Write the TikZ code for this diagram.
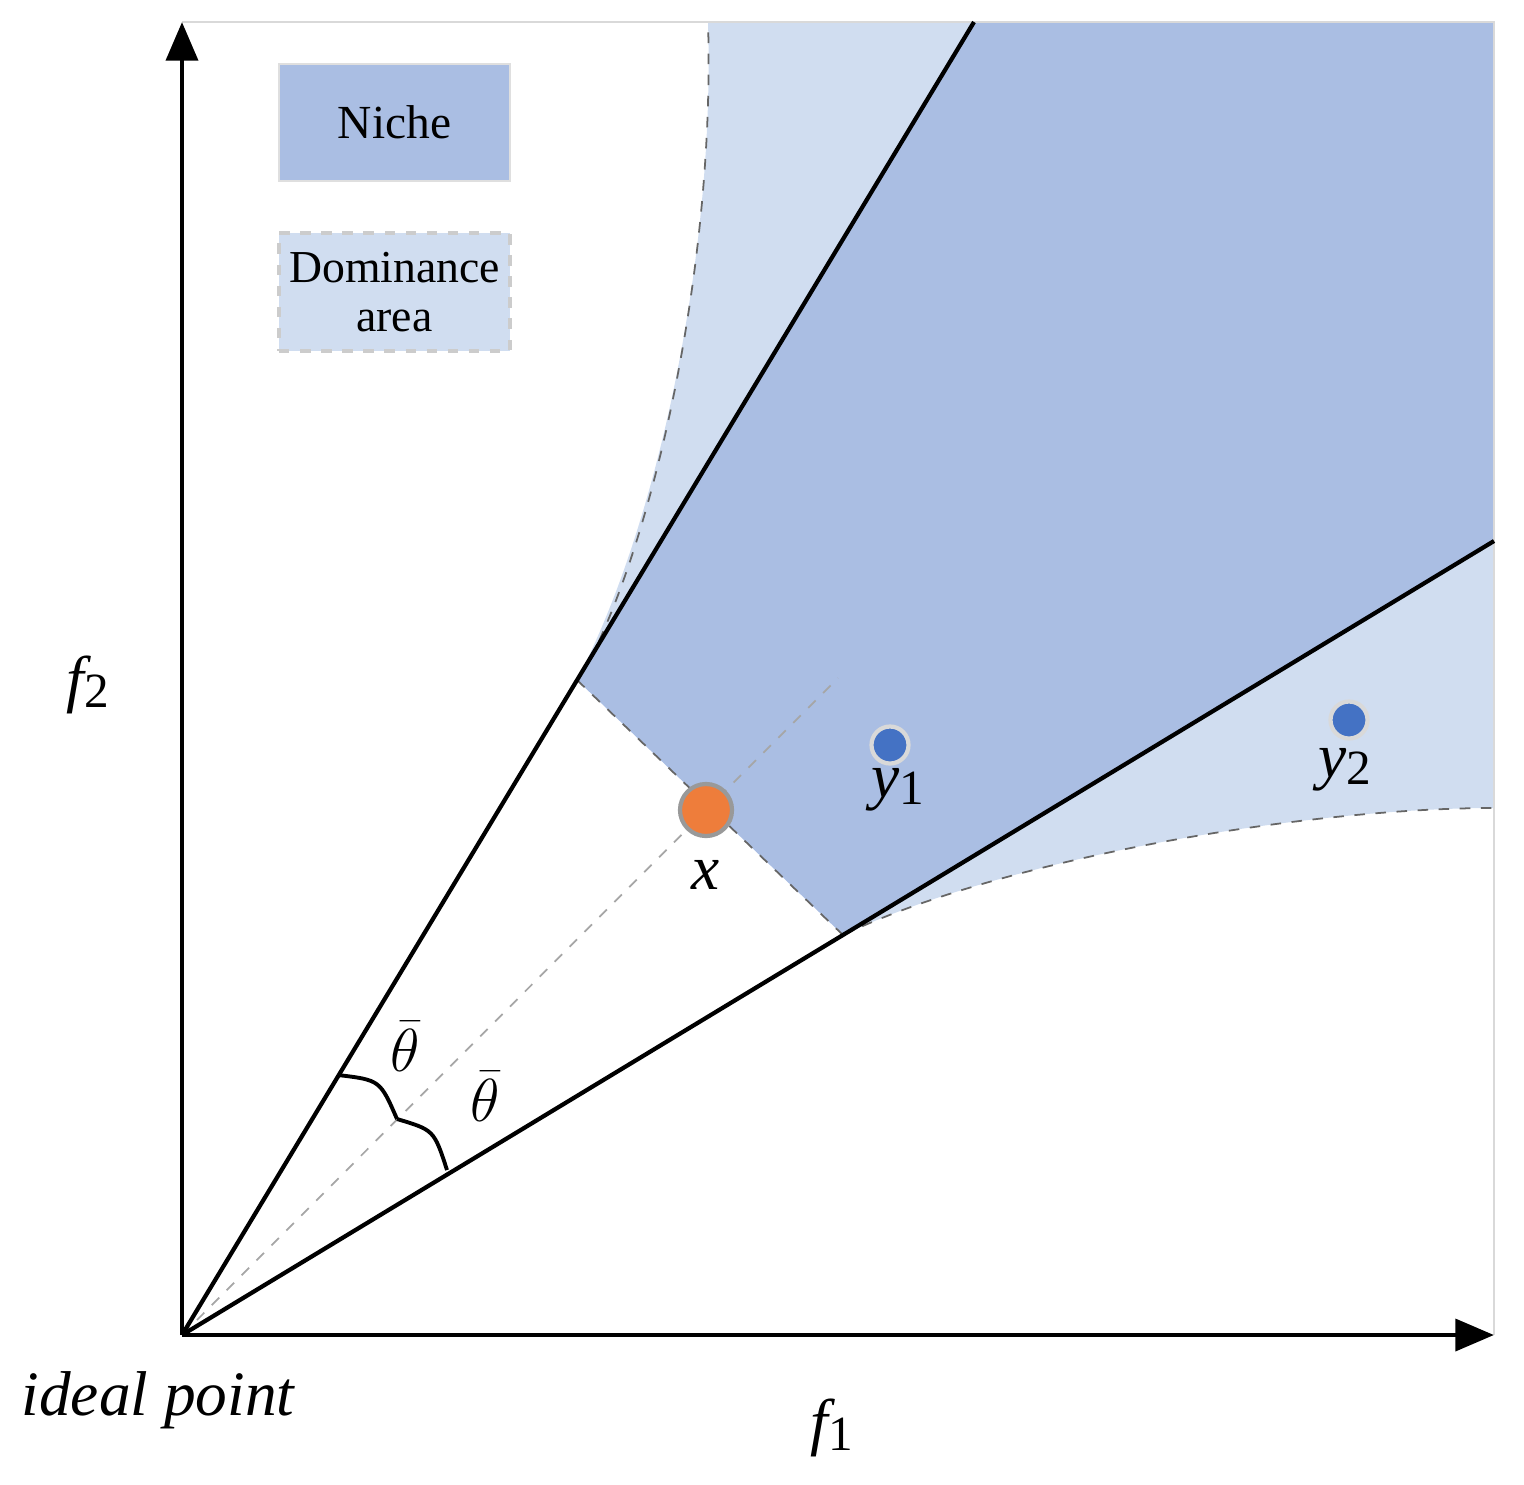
\documentclass[tikz,border=0pt]{standalone}
\usepackage{fontspec}
\setmainfont{Liberation Serif}
\usetikzlibrary{arrows.meta}
\definecolor{niche}{HTML}{AABEE3}
\definecolor{dom}{HTML}{D0DDF0}
\definecolor{orng}{HTML}{EE7D3B}
\definecolor{blu}{HTML}{4472C4}
\newcommand{\sbs}[1]{\raisebox{-0.25ex}{\upshape\fontsize{14}{16}\selectfont #1}}
\tikzset{axis/.style={line width=1.4pt,-{Triangle[length=11pt,width=9pt]}},
 ray/.style={line width=1.2pt},
 dsh/.style={dashed,gray!80!black,line width=0.5pt},
 lbl/.style={font=\fontsize{18}{22}\selectfont\itshape}}
\begin{document}
\begin{tikzpicture}[x=0.01cm,y=-0.01cm]
\useasboundingbox (0,0) rectangle (1524,1484);
\fill[dom] (577,680) .. controls (660,520) and (715,250) .. (708,22) -- (974,22) -- cycle;
\fill[dom] (843,935) .. controls (1000,860) and (1300,808) .. (1494,808) -- (1494,541) -- cycle;
\draw[dsh] (590,660) .. controls (660,520) and (715,250) .. (708,22);
\draw[dsh] (843,935) .. controls (1000,860) and (1300,808) .. (1494,808);
\fill[niche] (577,680) -- (974,22) -- (1494,22) -- (1494,541) -- (843,935) -- cycle;
\draw[dsh] (577,680) -- (843,935);
\draw[gray!30,line width=0.8pt] (182,22) -- (1494,22) -- (1494,1335);
\coordinate (O) at (182,1335);
\coordinate (U) at (974,22);
\coordinate (L) at (1494,541);
\coordinate (B) at (838,678);
\coordinate (P1) at (338,1075);
\coordinate (M) at (397,1119);
\coordinate (P2) at (447,1170);
\draw[dsh,gray!70] (O) -- (B);
\draw[ray] (O) -- (U);
\draw[ray] (O) -- (L);
\draw[line width=1.1pt] (P1) .. controls (380,1080) .. (M);
\draw[line width=1.1pt] (M) .. controls (434,1130) .. (P2);
\draw[axis] (O) -- (182,22);
\draw[axis] (O) -- (1494,1335);
\node[circle,fill=orng,draw=gray!80,line width=1.2pt,inner sep=0,minimum size=0.52cm] (x) at (706,810) {};
\node[circle,fill=blu,draw=gray!30,line width=1.2pt,inner sep=0,minimum size=0.37cm] (y1) at (890,745) {};
\node[circle,fill=blu,draw=gray!30,line width=1.2pt,inner sep=0,minimum size=0.37cm] (y2) at (1349,720) {};
\node[lbl] (lx) at (706,875) {x};
\node[lbl] (ly1) at (898,790) {y\sbs{1}};
\node[lbl] (ly2) at (1345,770) {y\sbs{2}};
\node[lbl] (lf2) at (88,685) {f\sbs{2}};
\node[lbl] (lf1) at (832,1428) {f\sbs{1}};
\node[lbl] (ip) at (158,1400) {ideal point};
\node[font=\fontsize{18}{22}\selectfont] (t1) at (405,1046) {$\bar{\theta}$};
\node[font=\fontsize{18}{22}\selectfont] (t2) at (485,1096) {$\bar{\theta}$};
\node[fill=niche,draw=gray!25,minimum width=2.31cm,minimum height=1.17cm,font=\fontsize{13.5}{16}\selectfont] (leg1) at (394.5,122.5) {Niche};
\node[fill=dom,draw=gray!40,dashed,line width=1pt,inner sep=0pt,text width=2.31cm,minimum height=1.18cm,align=center,font=\fontsize{13}{14}\selectfont] (leg2) at (394.5,292) {Dominance\\area};
\end{tikzpicture}
\end{document}
